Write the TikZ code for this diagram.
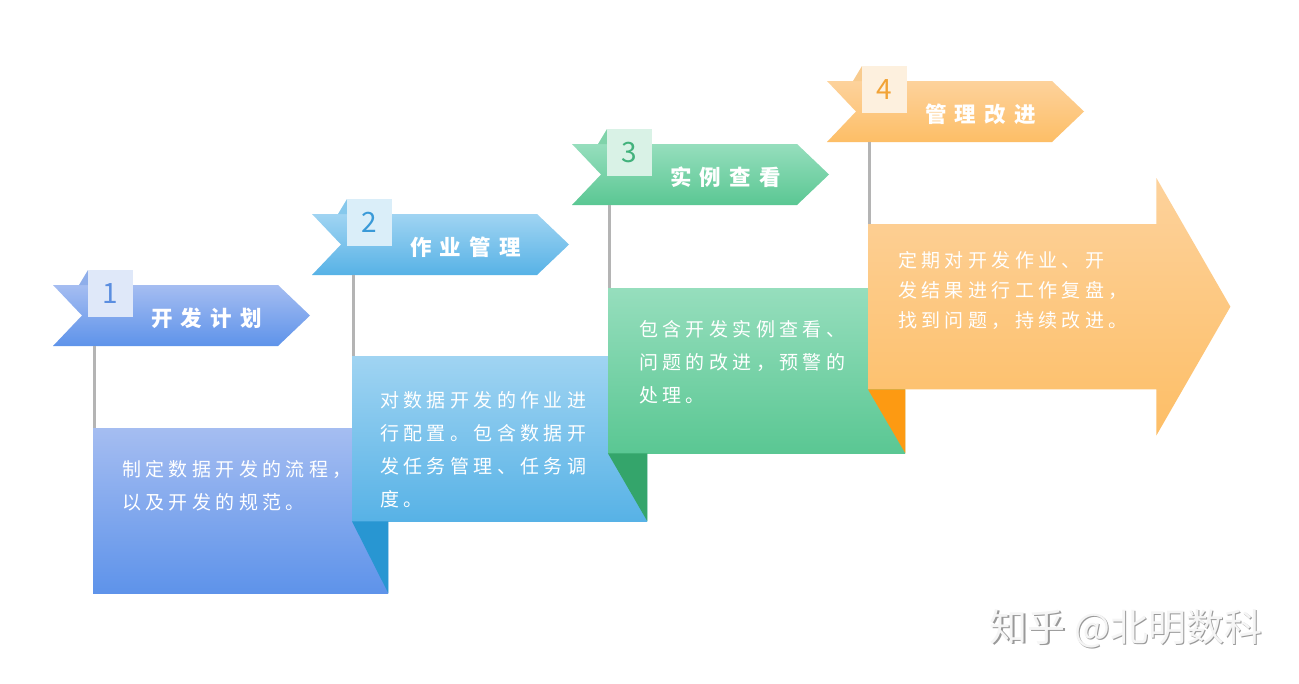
\documentclass[tikz,border=0pt]{standalone}
\usepackage{fontspec}
\usepackage{xcolor}
\usepackage{tikz}
\usetikzlibrary{positioning,shapes}
\newfontfamily\cjk{Noto Sans CJK SC}
\newfontfamily\cjktext{Noto Sans CJK SC}[LetterSpace=23]
\newfontfamily\cjktitle{Noto Sans CJK SC}[LetterSpace=38]

\definecolor{one top}{HTML}{A5BDF1}
\definecolor{one bot}{HTML}{5E93EA}
\definecolor{one fold}{HTML}{8FAEEA}
\definecolor{one sq}{HTML}{DFE8F9}
\definecolor{one num}{HTML}{5B8EE0}
\definecolor{two top}{HTML}{A0D4F2}
\definecolor{two bot}{HTML}{57B2E6}
\definecolor{two fold}{HTML}{86C8EC}
\definecolor{two sq}{HTML}{DAEEF9}
\definecolor{two num}{HTML}{3A9AD8}
\definecolor{two flap}{HTML}{2896D2}
\definecolor{three top}{HTML}{96DEBD}
\definecolor{three bot}{HTML}{5AC793}
\definecolor{three fold}{HTML}{80D3AA}
\definecolor{three sq}{HTML}{D9F2E6}
\definecolor{three num}{HTML}{42B27C}
\definecolor{three flap}{HTML}{34A56B}
\definecolor{four top}{HTML}{FDD29C}
\definecolor{four bot}{HTML}{FDBE66}
\definecolor{four fold}{HTML}{F8CB8E}
\definecolor{four sq}{HTML}{FDF0DE}
\definecolor{four num}{HTML}{F2A336}
\definecolor{four flap}{HTML}{FD9A12}
\definecolor{stemgray}{HTML}{B4B4B4}

\tikzstyle{card}=[rectangle, draw=none, inner sep=0pt, anchor=north west, minimum height=165pt]
\tikzstyle{stem}=[draw=stemgray, line width=2.5pt]
\tikzstyle{numbox}=[rectangle, inner sep=0pt, minimum width=45pt, minimum height=47pt,
        font=\cjk\fontsize{28}{30}\selectfont]
\tikzstyle{headtext}=[text=white, inner sep=0pt, anchor=west,
        font=\cjktitle\bfseries\fontsize{21.5}{24}\selectfont]
\tikzstyle{bodytext}=[text=white, inner sep=0pt, anchor=west, align=left,
        font=\cjktext\fontsize{19}{33}\selectfont]
\tikzstyle{wmtext}=[inner sep=0pt, font=\cjk\fontsize{38}{40}\selectfont]

\begin{document}
\begin{tikzpicture}[x=1pt, y=-1pt]
        \useasboundingbox (0,0) rectangle (1299,683);
        \fill[white] (0,0) rectangle (1299,683);

        % panels, back to front
        \node (body1) [card, minimum width=295pt, top color=one top, bottom color=one bot] at (93,428) {};
        \node (body2) [card, minimum width=295pt, top color=two top, bottom color=two bot] at (352,356) {};
        \fill[two flap] (body2.south west) -- (body1.south east |- body2.south) -- (body1.south east) -- cycle;
        \node (body3) [card, minimum width=297pt, top color=three top, bottom color=three bot] at (608,288) {};
        \fill[three flap] (body3.south west) -- (body2.south east |- body3.south) -- (body2.south east) -- cycle;
        \node (body4) [card, minimum width=288pt] at (868,224) {};
        \shade[top color=four top, bottom color=four bot]
          (body4.north west) -- (body4.north east) -- ([yshift=46pt]body4.north east)
          -- ([xshift=74pt]body4.east) -- ([yshift=-46pt]body4.south east)
          -- (body4.south east) -- (body4.south west) -- cycle;
        \fill[four flap] (body4.south west) -- (body3.south east |- body4.south) -- (body3.south east) -- cycle;

        % banners with number tabs
        \foreach \n/\L/\T/\X/\c/\t in {1/53/285/94.5/one/开发计划, 2/312/214/353.5/two/作业管理,
                                       3/572/144/609.5/three/实例查看, 4/827/81/869.5/four/管理改进}
        {
          \shade[top color=\c\space top, bottom color=\c\space bot]
            (\L,\T) -- ++(225,0) -- ++(32,30.5) -- ++(-32,30.5) -- ++(-225,0) -- ++(29,-30.5) -- cycle;
          \fill[\c\space fold] (\L+26,\T) -- (\L+35,\T-15) -- (\L+35,\T) -- cycle;
          \node (num\n) [numbox, fill=\c\space sq, text=\c\space num] at (\L+57.5,\T+8.5) {\n};
          \node (title\n) [headtext] at (\L+98,\T+33) {\t};
          \coordinate (foot\n) at (\X,\T+61);
          \draw[stem] (foot\n) -- (foot\n |- body\n.north);
        }

        \node (text1) [bodytext] at (122,485.5) {制定数据开发的流程，\\以及开发的规范。};
        \node (text2) [bodytext] at (380,449.5) {对数据开发的作业进\\行配置。包含数据开\\发任务管理、任务调\\度。};
        \node (text3) [bodytext] at (639,362.5) {包含开发实例查看、\\问题的改进，预警的\\处理。};
        \node (text4) [bodytext, font=\cjktext\fontsize{19}{30}\selectfont] at (898,290)
          {定期对开发作业、开\\发结果进行工作复盘，\\找到问题，持续改进。};

        \node (wmshadow) [wmtext, text=black!40] at (1127.5,630) {知乎 @北明数科};
        \node (wm) [wmtext, text=black!4] at (1126,628.5) {知乎 @北明数科};
\end{tikzpicture}
\end{document}
